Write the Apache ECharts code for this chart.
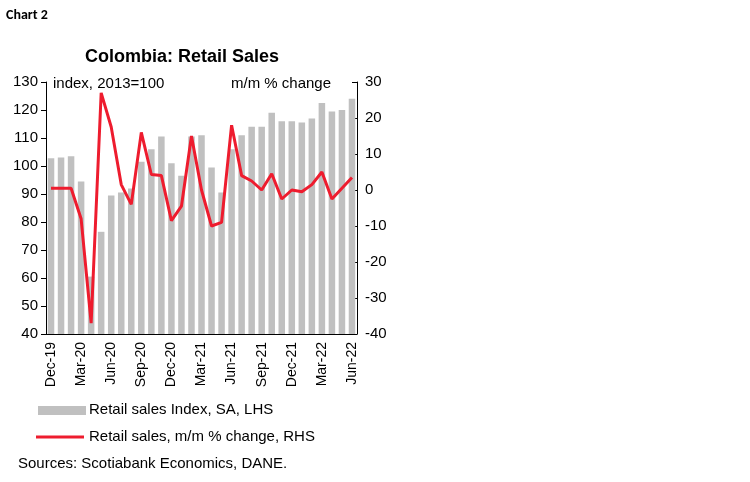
<!DOCTYPE html>
<html><head><meta charset="utf-8">
<script src="https://cdn.jsdelivr.net/npm/echarts@6/dist/echarts.min.js"></script>
<style>body{margin:0;background:#fff}#main{width:750px;height:482px}</style>
</head><body><div id="main"></div>
<script>
var months = ['Dec-19','Jan-20','Feb-20','Mar-20','Apr-20','May-20','Jun-20','Jul-20','Aug-20','Sep-20','Oct-20','Nov-20',
  'Dec-20','Jan-21','Feb-21','Mar-21','Apr-21','May-21','Jun-21','Jul-21','Aug-21','Sep-21','Oct-21','Nov-21',
  'Dec-21','Jan-22','Feb-22','Mar-22','Apr-22','May-22','Jun-22'];
var salesIndex = [102.8,103,103.5,94.5,60.5,76.5,89.5,90.5,92,101.5,106,110.5,
  101,96.5,110.5,111,99.5,90.5,106,111,114,114,119,116,
  116,115.5,117,122.5,119.5,120,124];
var salesMoM = [0.5,0.5,0.5,-8,-37,27,17.5,1.5,-4,16,4.3,4,
  -8.5,-4.5,15,0,-10,-9,18,4,2.5,0,4.5,-2.5,
  0,-0.5,1.5,5,-2.5,0.5,3.5];

var chart = echarts.init(document.getElementById('main'));
var font = 'Liberation Sans';
chart.setOption({
  animation: false,
  textStyle: {fontFamily: font},
  graphic: [
    {type: 'text', left: 6, top: 8, style: {text: 'Chart 2', font: 'bold 14px Calibri, Carlito, "Liberation Sans"', fill: '#000'}},
    {type: 'text', left: 85, top: 48, style: {text: 'Colombia: Retail Sales', font: 'bold 18px "Liberation Sans"', fill: '#000'}},
    {type: 'text', left: 53, top: 76, style: {text: 'index, 2013=100', font: '15px "Liberation Sans"', fill: '#000'}},
    {type: 'text', left: 231, top: 76, style: {text: 'm/m % change', font: '15px "Liberation Sans"', fill: '#000'}},
    {type: 'rect', shape: {x: 38, y: 406, width: 48, height: 9}, style: {fill: '#c0c0c0'}},
    {type: 'text', left: 89, top: 402, style: {text: 'Retail sales Index, SA, LHS', font: '15px "Liberation Sans"', fill: '#000'}},
    {type: 'line', shape: {x1: 36, y1: 437, x2: 84, y2: 437}, style: {stroke: '#ee1c2e', lineWidth: 3}},
    {type: 'text', left: 89, top: 429, style: {text: 'Retail sales, m/m % change, RHS', font: '15px "Liberation Sans"', fill: '#000'}},
    {type: 'text', left: 18, top: 456, style: {text: 'Sources: Scotiabank Economics, DANE.', font: '15px "Liberation Sans"', fill: '#000'}}
  ],
  grid: {left: 46, top: 82, width: 311, height: 252},
  xAxis: {
    type: 'category', data: months,
    axisLine: {onZero: false, lineStyle: {color: '#000'}},
    axisTick: {interval: 2, alignWithLabel: true, lineStyle: {color: '#000'}},
    axisLabel: {interval: 2, rotate: 90, color: '#000', fontSize: 14, fontFamily: font}
  },
  yAxis: [
    {type: 'value', min: 40, max: 130, interval: 10, splitLine: {show: false},
     axisLine: {show: true, lineStyle: {color: '#000'}}, axisTick: {show: true, lineStyle: {color: '#000'}},
     axisLabel: {color: '#000', fontSize: 15, fontFamily: font}},
    {type: 'value', min: -40, max: 30, interval: 10, splitLine: {show: false},
     axisLine: {show: true, lineStyle: {color: '#000'}}, axisTick: {show: true, inside: true, lineStyle: {color: '#000'}},
     axisLabel: {color: '#000', fontSize: 15, fontFamily: font}}
  ],
  series: [
    {type: 'bar', data: salesIndex, barCategoryGap: '35%', itemStyle: {color: '#c0c0c0'}},
    {type: 'line', yAxisIndex: 1, data: salesMoM, symbol: 'none', lineStyle: {color: '#ee1c2e', width: 3}}
  ]
});
</script></body></html>
